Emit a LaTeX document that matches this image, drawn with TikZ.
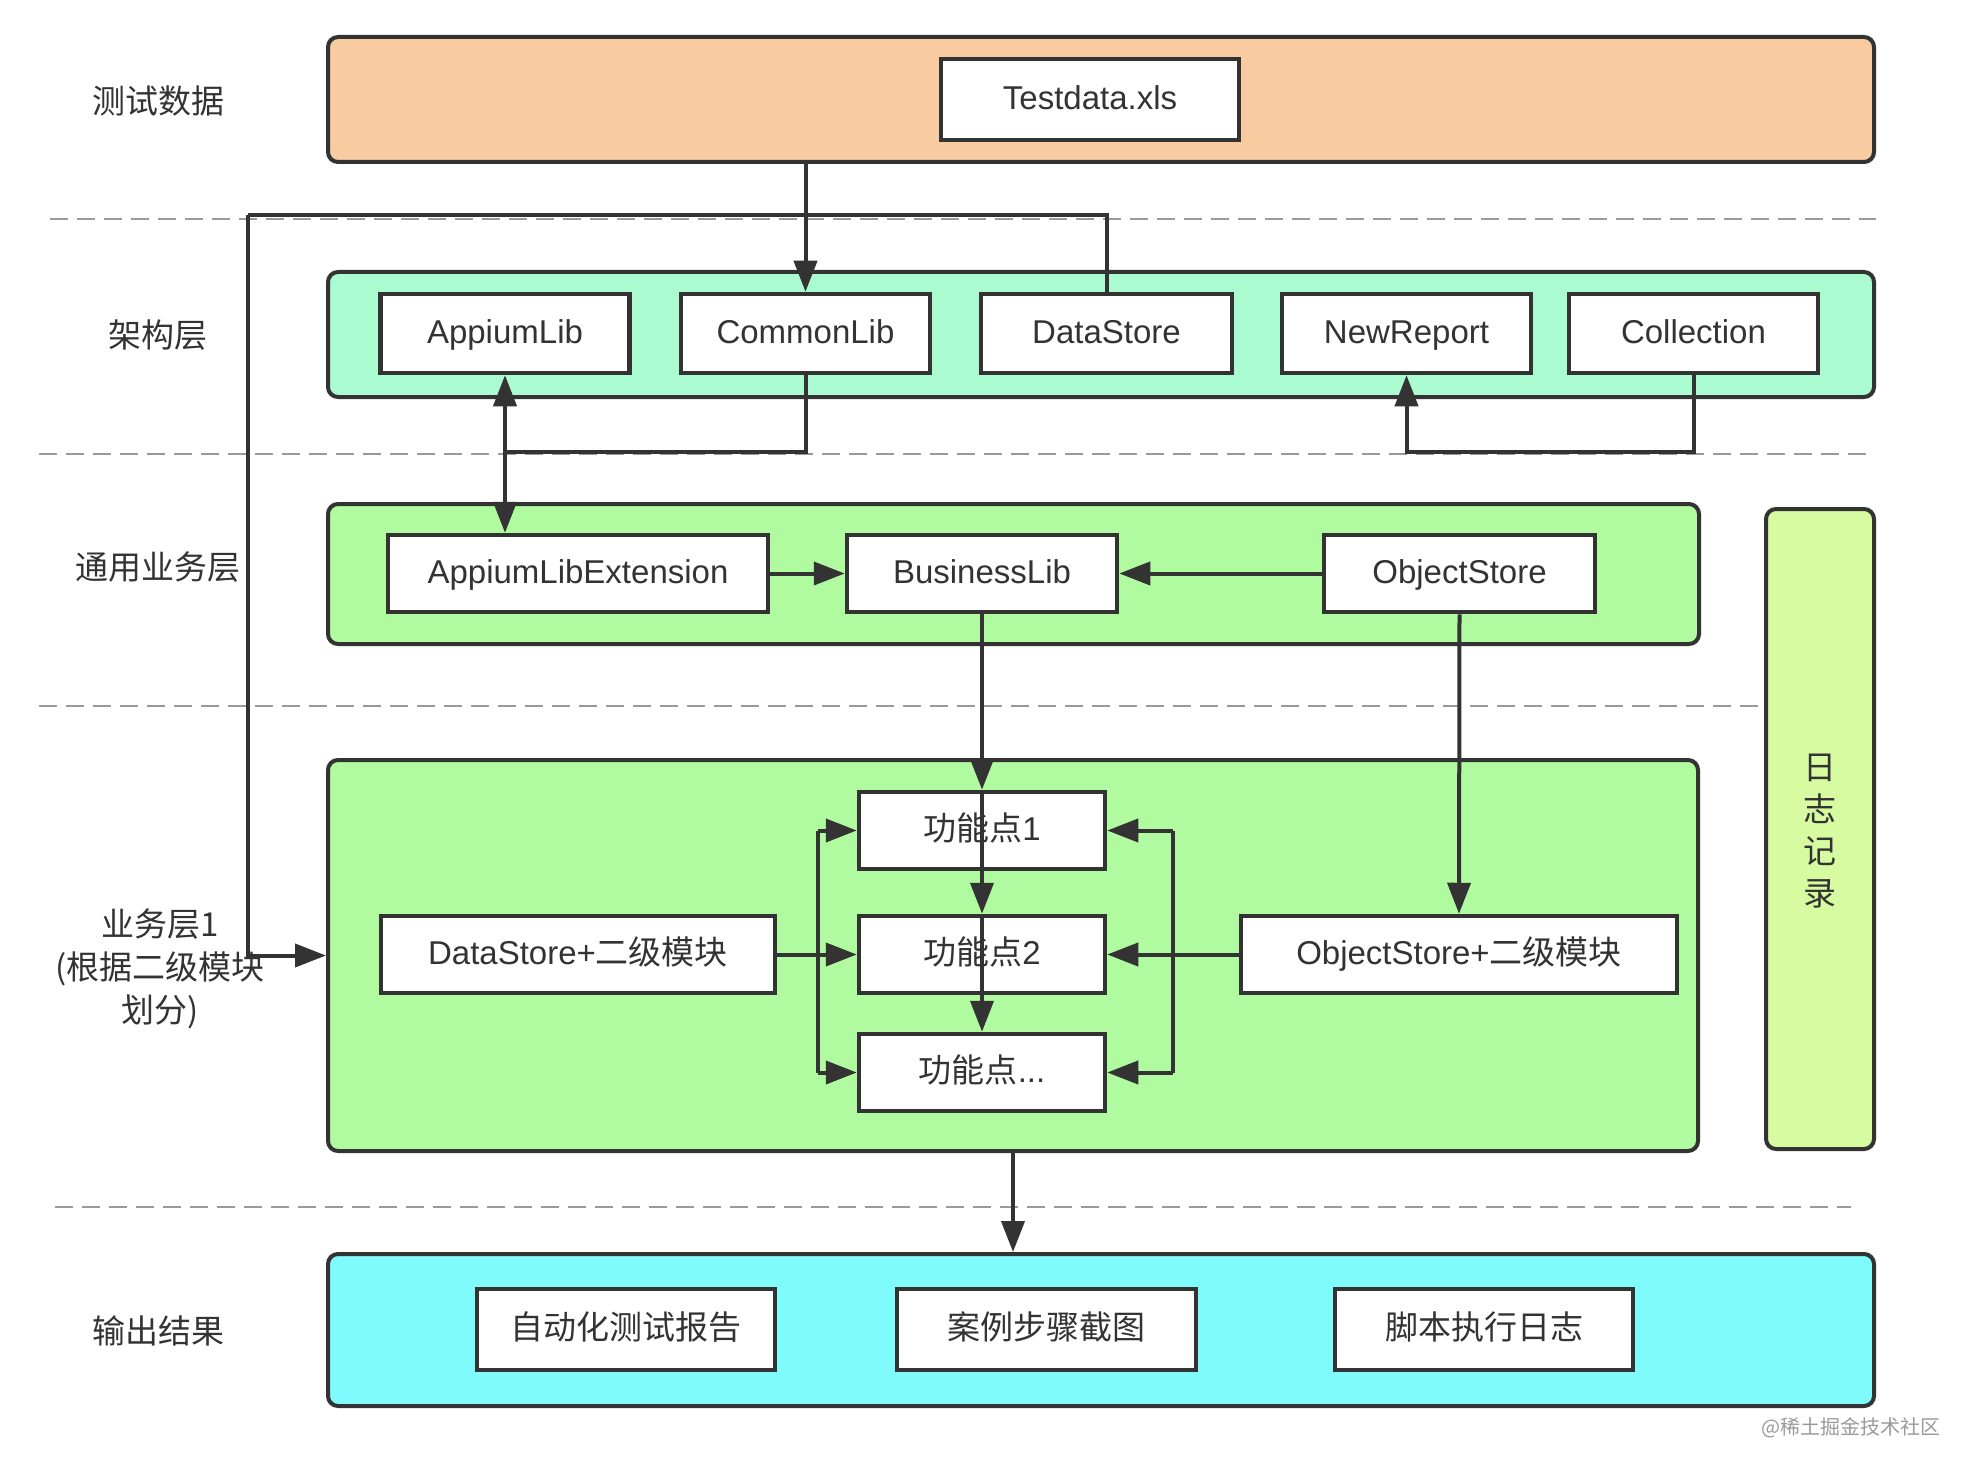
\documentclass[tikz,border=0pt]{standalone}
\usepackage{fontspec}
\setmainfont{Liberation Sans}
\newfontfamily\cjk{Noto Sans CJK SC}
\usetikzlibrary{arrows.meta,calc}
\definecolor{ln}{HTML}{333333}
\definecolor{sepc}{HTML}{9A9A9A}
\definecolor{orangef}{HTML}{F8CBA0}
\definecolor{mintf}{HTML}{AAFBCF}
\definecolor{greenf}{HTML}{B0FBA0}
\definecolor{logf}{HTML}{D6FBA0}
\definecolor{cyanf}{HTML}{80FBFC}
\begin{document}
\begin{tikzpicture}[x=1pt,y=-1pt,
  group/.style={draw=ln,line width=4pt,rounded corners=10pt,inner sep=0pt},
  box/.style={draw=ln,line width=4.5pt,fill=white,inner sep=0pt,text=ln,font=\fontsize{33}{40}\selectfont,text height=25pt,text depth=5pt},
  lab/.style={text=ln,font=\fontsize{33}{43}\selectfont\cjk,align=center,inner sep=0pt},
  conn/.style={draw=ln,line width=4pt},
  arr/.style={conn,-{Triangle[length=31pt,width=23pt]}},
  both/.style={conn,{Triangle[length=31pt,width=23pt]}-{Triangle[length=31pt,width=23pt]}},
  sep/.style={draw=sepc,line width=2pt,dash pattern=on 18pt off 9pt}]
\useasboundingbox (0,0) rectangle (1966,1474);
\fill[white] (0,0) rectangle (1966,1474);

% separators
\draw[sep] (50,219) -- (1876,219);
\draw[sep] (39,454) -- (1866,454);
\draw[sep] (39,706) -- (1764,706);
\draw[sep] (55,1207) -- (1851,1207);

% groups
\node[group,fill=orangef,minimum width=1546pt,minimum height=125pt] (orange) at (1101,99.5) {};
\node[group,fill=mintf,minimum width=1546pt,minimum height=125pt] (g1) at (1101,334.5) {};
\node[group,fill=greenf,minimum width=1371pt,minimum height=140pt] (g2) at (1013.5,574) {};
\node[group,fill=greenf,minimum width=1370pt,minimum height=391pt] (g3) at (1013,955.5) {};
\node[group,fill=cyanf,minimum width=1546pt,minimum height=152pt] (cyan) at (1101,1330) {};
\node[group,fill=logf,minimum width=108pt,minimum height=640pt] (log) at (1820,829) {};
\node[lab,font=\fontsize{33}{42}\selectfont\cjk] (logt) at (1820,831) {日\\志\\记\\录};

% labels
\node[lab] (l1) at (158,101) {测试数据};
\node[lab] (l2) at (158,335) {架构层};
\node[lab] (l3) at (158,567) {通用业务层};
\node[lab] (l4) at (160,969) {业务层1\\(根据二级模块\\划分)};
\node[lab] (l5) at (158,1331) {输出结果};

% boxes
\node[box,minimum width=298pt,minimum height=81pt] (td) at (1090,99.5) {Testdata.xls};
\node[box,minimum width=249pt,minimum height=79pt] (al) at (505,333.5) {AppiumLib};
\node[box,minimum width=249pt,minimum height=79pt] (cl) at (805.5,333.5) {CommonLib};
\node[box,minimum width=251pt,minimum height=79pt] (ds) at (1106.5,333.5) {DataStore};
\node[box,minimum width=249pt,minimum height=79pt] (nr) at (1406.5,333.5) {NewReport};
\node[box,minimum width=249pt,minimum height=79pt] (coll) at (1693.5,333.5) {Collection};
\node[box,minimum width=380pt,minimum height=77pt] (ext) at (578,573.5) {AppiumLibExtension};
\node[box,minimum width=270pt,minimum height=77pt] (bl) at (982,573.5) {BusinessLib};
\node[box,minimum width=271pt,minimum height=77pt] (os) at (1459.5,573.5) {ObjectStore};
\node[box,minimum width=394pt,minimum height=77pt] (ds2) at (578,954.5) {DataStore+{\cjk 二级模块}};
\node[box,minimum width=246pt,minimum height=77pt] (f1) at (982,830.5) {{\cjk 功能点}1};
\node[box,minimum width=246pt,minimum height=77pt] (f2) at (982,954.5) {{\cjk 功能点}2};
\node[box,minimum width=246pt,minimum height=77pt] (f3) at (982,1072.5) {{\cjk 功能点}...};
\node[box,minimum width=436pt,minimum height=77pt] (os2) at (1459,954.5) {ObjectStore+{\cjk 二级模块}};
\node[box,minimum width=298pt,minimum height=81pt,font=\fontsize{33}{40}\selectfont\cjk] (o1) at (626,1329.5) {自动化测试报告};
\node[box,minimum width=299pt,minimum height=81pt,font=\fontsize{33}{40}\selectfont\cjk] (o2) at (1046.5,1329.5) {案例步骤截图};
\node[box,minimum width=298pt,minimum height=81pt,font=\fontsize{33}{40}\selectfont\cjk] (o3) at (1484,1329.5) {脚本执行日志};

% watermark
\node[text=sepc,font=\fontsize{20}{24}\selectfont\cjk,inner sep=0pt] (wm) at (1851,1428) {@稀土掘金技术社区};

% coordinates
\coordinate (lp) at (248,215);
\coordinate (j1) at (505,452);
\coordinate (lbus) at (818,954.5);
\coordinate (rbus) at (1173,954.5);

% connectors
\draw[arr] (cl |- orange.south) -- (cl.north);
\draw[conn] (ds.north) |- (lp);
\draw[arr] (lp) |- (g3.west);
\draw[both] (al.south) -- (al.south |- ext.north);
\draw[conn] (cl.south) |- (j1);
\draw[arr] (coll.south) -- (coll.south |- j1) -| (nr.south);
\draw[arr] (ext.east) -- (bl.west);
\draw[arr] (os.west) -- (bl.east);
\draw[arr] (bl.south) -- (f1.north);
\draw[conn] (f1.north) -- (f1.south);
\draw[arr] (f1.south) -- (f2.north);
\draw[conn] (f2.north) -- (f2.south);
\draw[arr] (f2.south) -- (f3.north);
\draw[arr] (os.south) -- (os2.north);
\draw[conn] (ds2.east) -- (lbus);
\draw[conn] (lbus |- f1.west) -- (lbus |- f3.west);
\draw[arr] (lbus) -- (f2.west);
\draw[arr] (lbus |- f1.west) -- (f1.west);
\draw[arr] (lbus |- f3.west) -- (f3.west);
\draw[conn] (rbus |- f1.east) -- (rbus |- f3.east);
\draw[arr] (os2.west) -- (f2.east);
\draw[arr] (rbus |- f1.east) -- (f1.east);
\draw[arr] (rbus |- f3.east) -- (f3.east);
\draw[arr] (g3.south) -- (g3.south |- cyan.north);
\end{tikzpicture}
\end{document}
